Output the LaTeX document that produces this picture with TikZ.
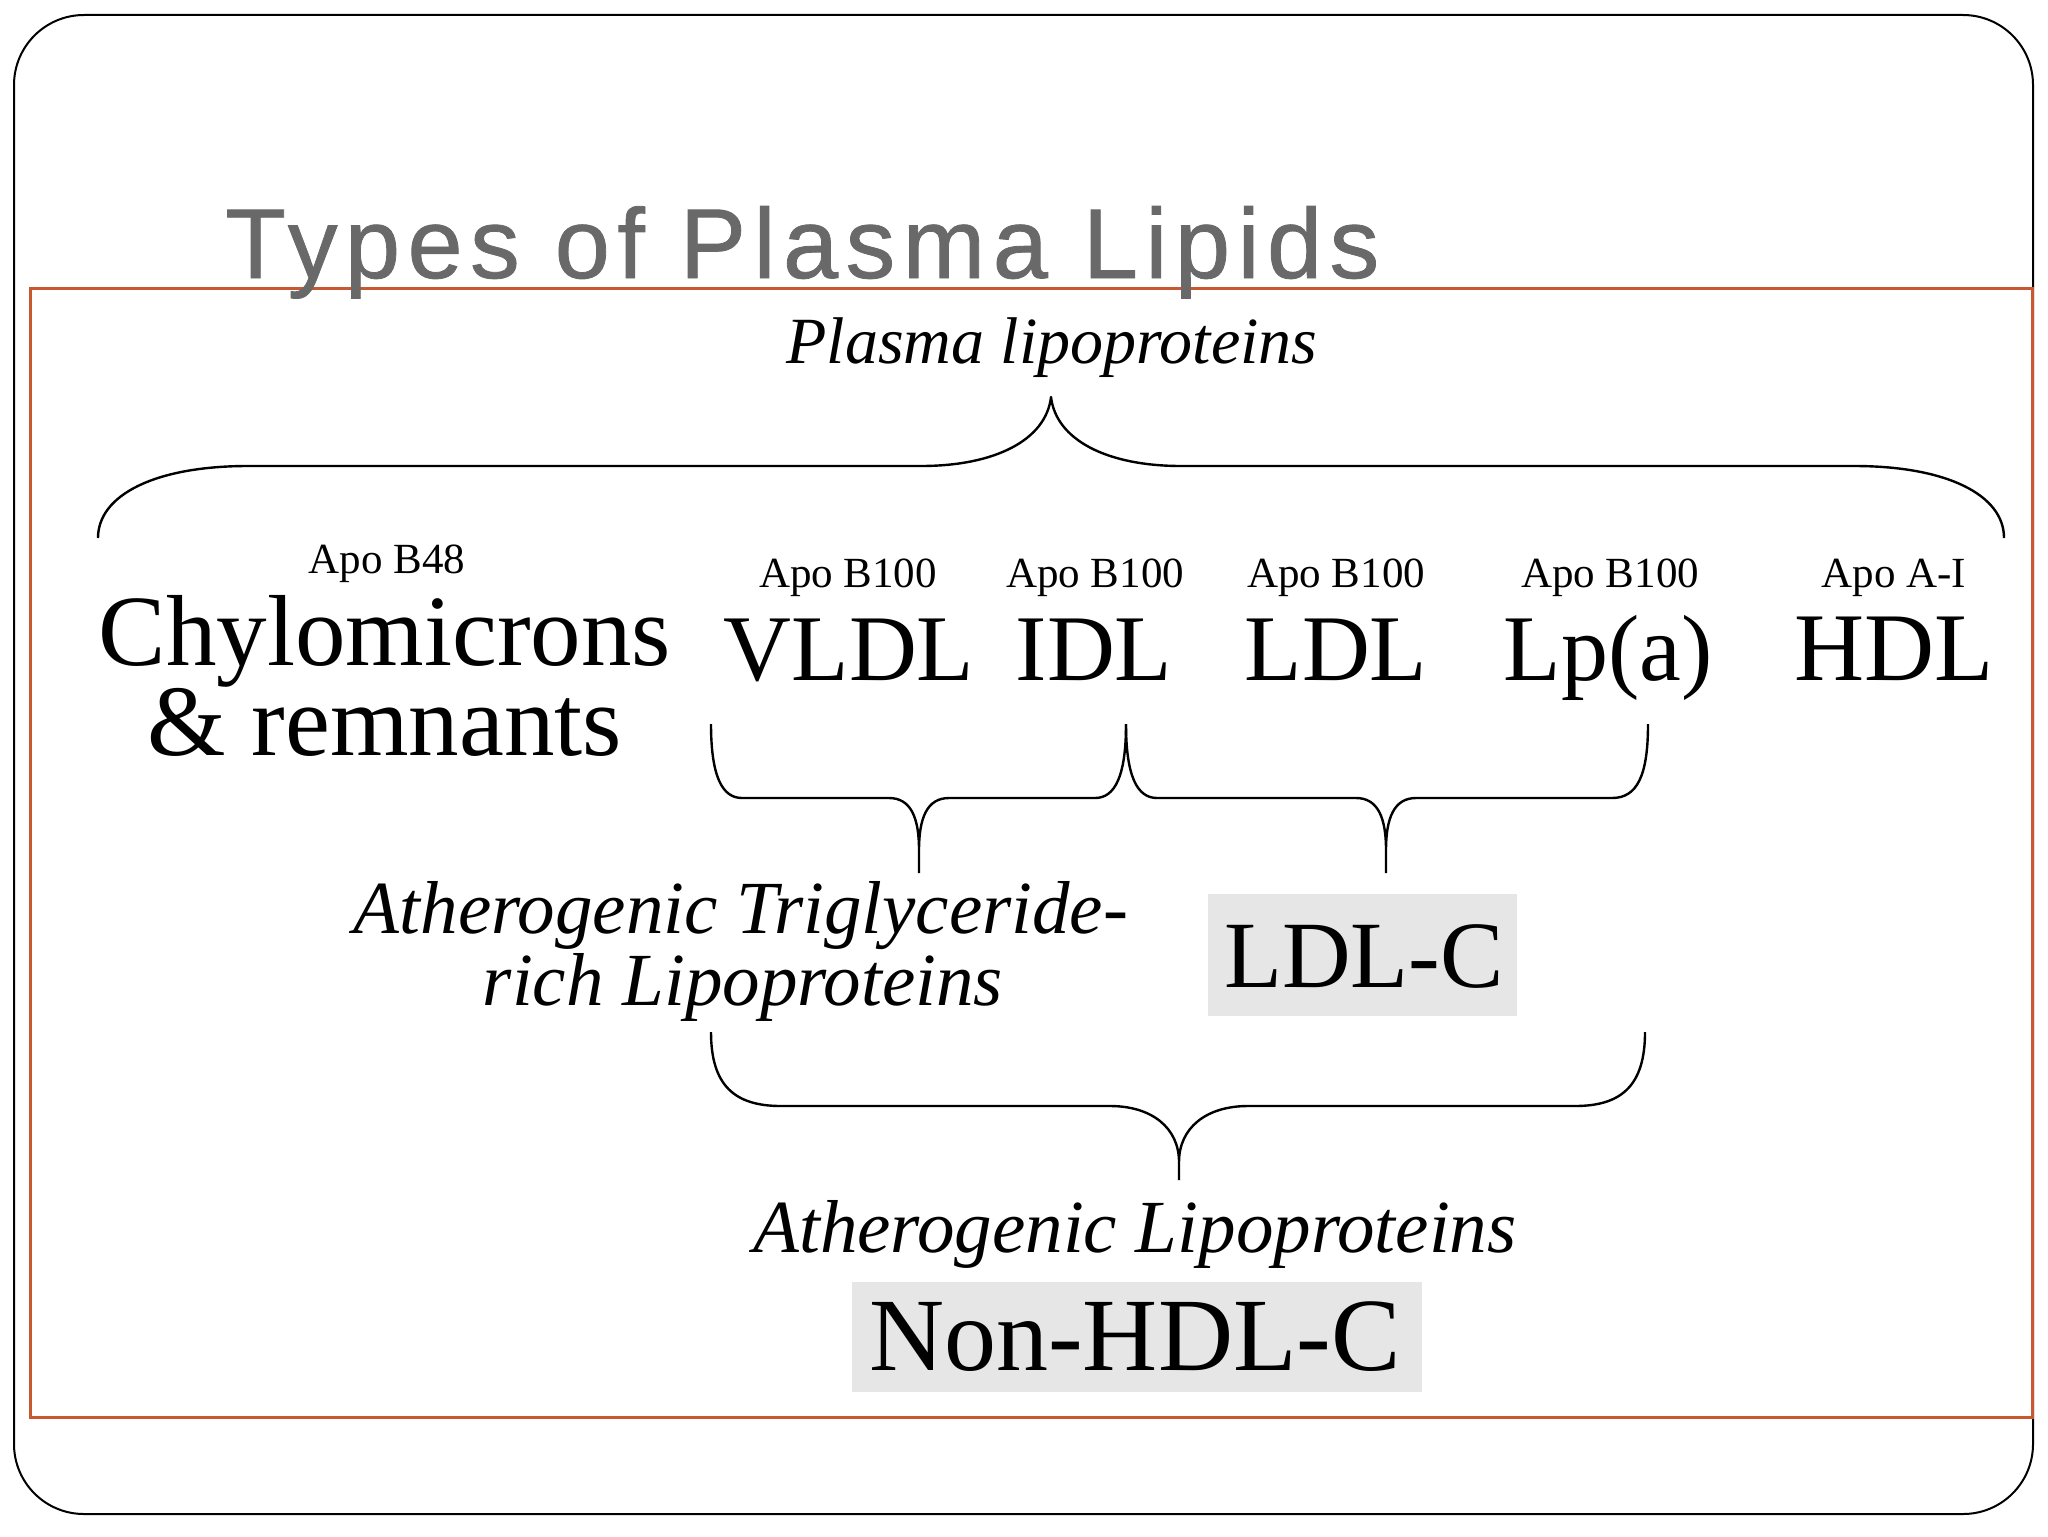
\documentclass[tikz,border=0pt]{standalone}
\usepackage{fontspec}
\setmainfont{Liberation Serif}
\newfontfamily\titlefont[LetterSpace=7.5,FakeBold=0.8]{Liberation Sans}
\definecolor{titlegray}{RGB}{105,105,105}
\definecolor{framebrown}{RGB}{200,88,48}
\definecolor{boxgray}{RGB}{230,230,230}

\begin{document}
\begin{tikzpicture}[x=0.5pt, y=-0.5pt,
    lipo/.style={font=\fontsize{47}{50}\selectfont, anchor=base, inner sep=0pt},
    apo/.style={font=\fontsize{21.5}{24}\selectfont, anchor=base, inner sep=0pt},
    group/.style={font=\itshape\fontsize{37.5}{40}\selectfont, anchor=base, inner sep=0pt},
    cbox/.style={fill=boxgray, inner sep=0pt},
    brace line/.style={line width=1.2pt, line join=round}]
  \useasboundingbox (0,0) rectangle (2048,1536);
  % slide frame and content box
  \draw[line width=1pt, rounded corners=35pt] (14,15) rectangle (2033,1514);
  \draw[framebrown, line width=1.5pt] (30,288) rectangle (2032,1417);
  \node[titlegray, anchor=base west, inner sep=0pt,
        font=\titlefont\fontsize{49.6}{52}\selectfont] (title) at (225,278) {Types of Plasma Lipids};

  % top level
  \node[group, font=\itshape\fontsize{33}{36}\selectfont] (plasma) at (1052,363) {Plasma lipoproteins};
  \draw[brace line] (98,538) .. controls (98,495) and (155,466) .. (248,466) -- (921,466)
    .. controls (995,466) and (1046,440) .. (1051,397)
    .. controls (1056,440) and (1107,466) .. (1181,466) -- (1854,466)
    .. controls (1947,466) and (2004,495) .. (2004,538);

  % lipoprotein classes with their apolipoproteins
  \node[apo] (apoB48) at (387,573) {Apo B48};
  \node[lipo, align=center, font=\fontsize{50.5}{45}\selectfont] (chylo) at (385,755) {Chylomicrons\\\& remnants};
  \node[apo] (apoVLDL) at (848,587) {Apo B100};
  \node[lipo] (vldl) at (849,680) {VLDL};
  \node[apo] (apoIDL) at (1095,587) {Apo B100};
  \node[lipo] (idl) at (1094,680) {IDL};
  \node[apo] (apoLDL) at (1336,587) {Apo B100};
  \node[lipo] (ldl) at (1336,680) {LDL};
  \node[apo] (apoLpa) at (1610,587) {Apo B100};
  \node[lipo] (lpa) at (1608,680) {Lp(a)};
  \node[apo] (apoHDL) at (1894,587) {Apo A-I};
  \node[lipo, font=\fontsize{48.5}{52}\selectfont] (hdl) at (1894,680) {HDL};

  % VLDL + IDL
  \draw[brace line] (711,724) .. controls (711,776) and (722,798) .. (742,798) -- (889,798)
    .. controls (911,798) and (919,818) .. (919,850) -- (919,873)
    (919,850) .. controls (919,818) and (927,798) .. (949,798) -- (1095,798)
    .. controls (1115,798) and (1126,776) .. (1126,724);
  % IDL + LDL + Lp(a)
  \draw[brace line] (1126,724) .. controls (1126,776) and (1137,798) .. (1157,798) -- (1356,798)
    .. controls (1378,798) and (1386,818) .. (1386,850) -- (1386,873)
    (1386,850) .. controls (1386,818) and (1394,798) .. (1416,798) -- (1612,798)
    .. controls (1637,798) and (1648,776) .. (1648,724);
  \node[group] (trl1) at (741,933) {Atherogenic Triglyceride-};
  \node[group] (trl2) at (743,1005) {rich Lipoproteins};
  \node[cbox, minimum width=154.5pt, minimum height=61pt] (ldlcbox) at (1362,955) {};
  \node[lipo, font=\fontsize{47.5}{50}\selectfont] (ldlc) at (1364,987) {LDL-C};

  % VLDL to Lp(a)
  \draw[brace line] (711,1032) .. controls (711,1086) and (735,1106) .. (781,1106) -- (1110,1106)
    .. controls (1152,1106) and (1179,1128) .. (1179,1162) -- (1179,1180)
    (1179,1162) .. controls (1179,1128) and (1206,1106) .. (1248,1106) -- (1575,1106)
    .. controls (1621,1106) and (1645,1086) .. (1645,1032);
  \node[group] (athero) at (1135,1252) {Atherogenic Lipoproteins};
  \node[cbox, minimum width=285pt, minimum height=55pt] (nonhdlbox) at (1137,1337) {};
  \node[lipo, font=\fontsize{52}{55}\selectfont] (nonhdl) at (1135,1370) {Non-HDL-C};
\end{tikzpicture}
\end{document}
